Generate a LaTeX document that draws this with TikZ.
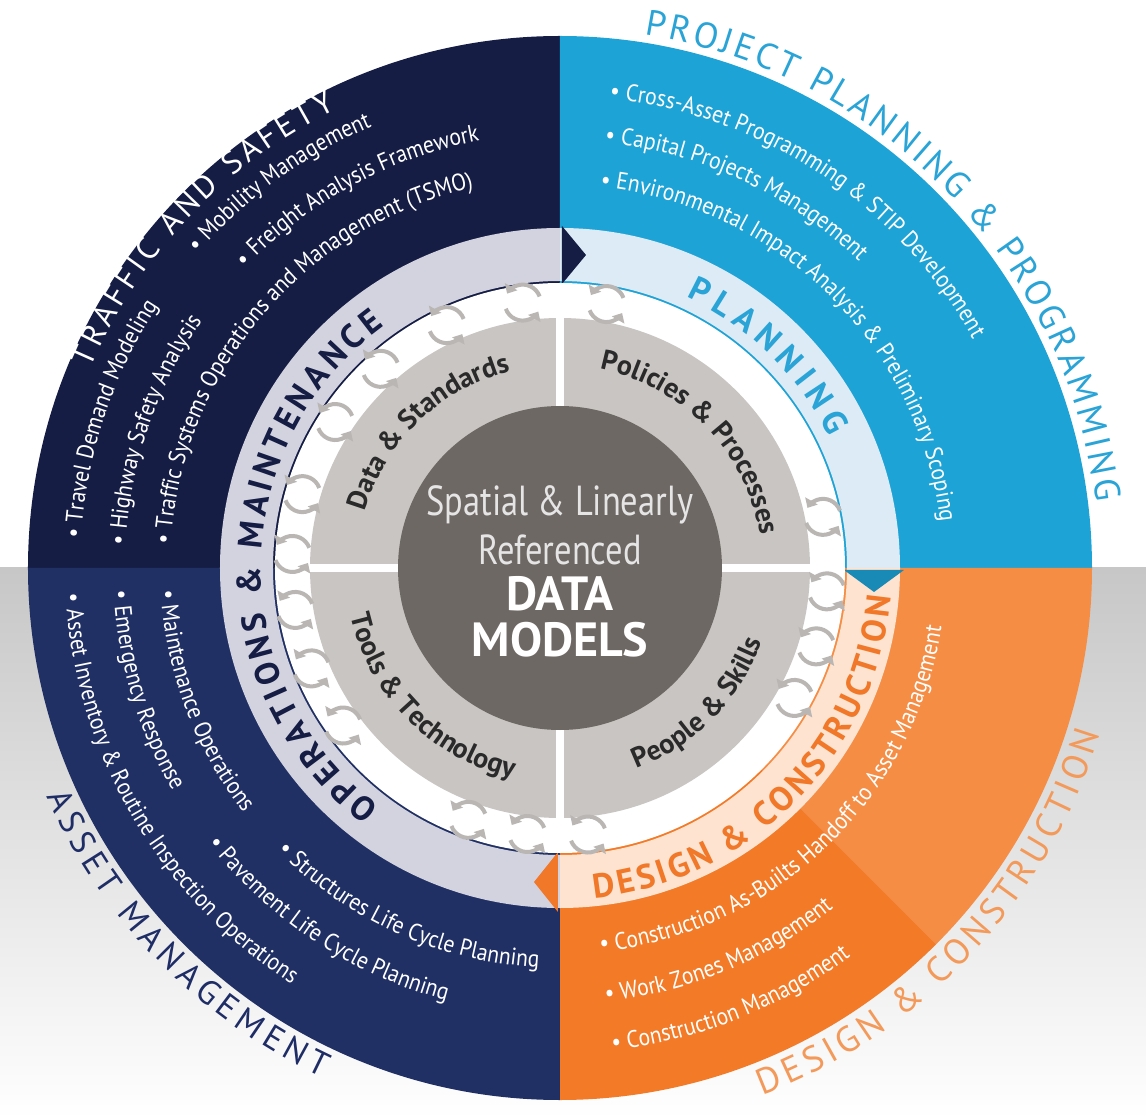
\documentclass[tikz,border=0pt]{standalone}
\usepackage{fontspec}
\setmainfont{PT Sans}
\newfontfamily\bul[FakeStretch=0.9]{PT Sans}
\newfontfamily\cnd[FakeStretch=0.82]{PT Sans}
\usetikzlibrary{decorations.text,arrows.meta}
\definecolor{tlc}{HTML}{151D45}
\definecolor{trc}{HTML}{1EA3D6}
\definecolor{brc}{HTML}{F37A26}
\definecolor{brc2}{HTML}{F68D45}
\definecolor{blc}{HTML}{203064}
\definecolor{ringblue}{HTML}{DCEBF5}
\definecolor{ringor}{HTML}{FDE3D0}
\definecolor{ringlav}{HTML}{D3D3E0}
\definecolor{grayq}{HTML}{C8C5C2}
\definecolor{centerc}{HTML}{6E6864}
\definecolor{iconc}{HTML}{B9B6B3}
\definecolor{labblue}{HTML}{2AA4D6}
\definecolor{laborange}{HTML}{F07828}
\definecolor{outorange}{HTML}{F39A5A}
\definecolor{navytxt}{HTML}{1F2D66}
\definecolor{darktxt}{HTML}{2A2A2A}
\newcommand\arctext[7]{%
  \path[decorate,decoration={text along path,text={|#4|#6},text color=#5,text align=#7}]
    (#2:#1) arc[start angle=#2,end angle=#3,radius=#1];}
\newcommand\cyc[1]{%
  \draw[cycst] (#1:268) ++(20:18) arc[start angle=20,end angle=150,radius=18];
  \draw[cycst] (#1:268) ++(200:18) arc[start angle=200,end angle=330,radius=18];}
\tikzset{
  cycst/.style={draw=iconc,line width=2pt,-{Triangle[length=4pt,width=7pt]}},
  ctxt/.style={text=#1,inner sep=0pt,anchor=center},
}
\def\bf#1{\bul\fontsize{#1}{14}\selectfont}
\begin{document}
\begin{tikzpicture}[x=0.5pt,y=0.5pt]
\useasboundingbox (-560,-551) rectangle (586,568);
% background
\shade[top color=black!22,bottom color=white] (-560,-551) rectangle (586,0);
% outer quadrants
\fill[tlc] (0,0) -- (90:532) arc[start angle=90,end angle=180,radius=532] -- cycle;
\fill[trc] (0,0) -- (0:532) arc[start angle=0,end angle=90,radius=532] -- cycle;
\fill[brc2] (0,0) -- (-45:532) arc[start angle=-45,end angle=0,radius=532] -- cycle;
\fill[brc] (0,0) -- (-90:532) arc[start angle=-90,end angle=-45,radius=532] -- cycle;
\fill[blc] (0,0) -- (180:532) arc[start angle=180,end angle=270,radius=532] -- cycle;
% ring
\fill[ringblue] (90:340) arc[start angle=90,end angle=0,radius=340] -- (0:287) arc[start angle=0,end angle=90,radius=287] -- cycle;
\fill[ringor] (0:340) arc[start angle=0,end angle=-90,radius=340] -- (-90:287) arc[start angle=-90,end angle=0,radius=287] -- cycle;
\fill[ringlav] (-90:340) arc[start angle=270,end angle=90,radius=340] -- (90:287) arc[start angle=90,end angle=270,radius=287] -- cycle;
% arrowheads
\fill[tlc] (2,342) -- (26,313) -- (2,284) -- cycle;
\fill[trc!85!black] (284,-2) -- (344,-2) -- (314,-24) -- cycle;
\fill[laborange] (-2,-284) -- (-2,-344) -- (-26,-314) -- cycle;
% white ring
\fill[white] (0,0) circle[radius=285];
% gray quadrants
\fill[grayq] (0,0) circle[radius=250];
\draw[white,line width=4pt] (-252,0) -- (252,0) (0,-252) -- (0,252);
\fill[centerc] (0,0) circle[radius=162];
% icons
\foreach \a in {80,98,115,132,147,164,177,189,202,216,250,263,276,11,-5,-17,-29} {\cyc{\a}}
% outer labels
\arctext{510}{157}{116}{\fontsize{16}{20}\selectfont}{white}{TRAFFIC AND SAFETY}{fit to path}
\arctext{540}{81}{7}{\fontsize{18}{20}\selectfont}{labblue}{PROJECT PLANNING {\&} PROGRAMMING}{fit to path}
\arctext{565}{-69}{-17}{\fontsize{18}{20}\selectfont}{outorange}{DESIGN {\&} CONSTRUCTION}{fit to path}
\arctext{562}{204}{245}{\fontsize{17}{20}\selectfont}{navytxt}{ASSET MANAGEMENT}{fit to path}
% top-left bullets
\arctext{480}{176.5}{140}{\bf{12}}{white}{• Travel Demand Modeling}{left}
\arctext{480}{139}{95}{\bf{12}}{white}{• Mobility Management}{left}
\arctext{435}{177}{138}{\bf{12}}{white}{• Highway Safety Analysis}{left}
\arctext{435}{136.4}{90}{\bf{12}}{white}{• Freight Analysis Framework}{left}
\arctext{390}{176.6}{85}{\bf{12}}{white}{• Traffic Systems Operations and Management (TSMO)}{left}
% top-right bullets
\arctext{472}{84}{15}{\bf{12}}{white}{• Cross-Asset Programming {\&} STIP Development}{left}
\arctext{428}{84}{30}{\bf{12}}{white}{• Capital Projects Management}{left}
\arctext{383}{84}{-5}{\bf{12}}{white}{• Environmental Impact Analysis {\&} Preliminary Scoping}{left}
% bottom-right bullets
\arctext{386}{-84}{2}{\bf{12}}{white}{• Construction As-Builts Handoff to Asset Management}{left}
\arctext{436}{-84}{-40}{\bf{12}}{white}{• Work Zones Management}{left}
\arctext{485}{-83.8}{-40}{\bf{12}}{white}{• Construction Management}{left}
% bottom-left bullets
\arctext{400}{183.2}{224}{\bf{12}}{white}{• Maintenance Operations}{left}
\arctext{400}{225}{275}{\bf{12}}{white}{• Structures Life Cycle Planning}{left}
\arctext{447}{182.9}{217}{\bf{12}}{white}{• Emergency Response}{left}
\arctext{447}{218}{268}{\bf{12}}{white}{• Pavement Life Cycle Planning}{left}
\arctext{495}{183}{255}{\bf{12}}{white}{• Asset Inventory {\&} Routine Inspection Operations}{left}
% ring labels
\arctext{299}{65}{26}{\fontsize{17}{20}\selectfont\bfseries}{labblue}{PLANNING}{fit to path}
\arctext{299}{233}{126}{\fontsize{17}{20}\selectfont\bfseries}{tlc}{OPERATIONS {\&} MAINTENANCE}{fit to path}
\arctext{332}{-84}{-5}{\fontsize{17}{20}\selectfont\bfseries}{laborange}{DESIGN {\&} CONSTRUCTION}{fit to path}
% gray labels
\arctext{203}{168}{100}{\fontsize{14}{16}\selectfont\bfseries}{darktxt}{Data {\&} Standards}{center}
\arctext{203}{83}{5}{\fontsize{14}{16}\selectfont\bfseries}{darktxt}{Policies {\&} Processes}{center}
\arctext{215}{187}{263}{\fontsize{14}{16}\selectfont\bfseries}{darktxt}{Tools {\&} Technology}{center}
\arctext{215}{-74}{-15}{\fontsize{14}{16}\selectfont\bfseries}{darktxt}{People {\&} Skills}{center}
% center text
\node[ctxt=black!10,font=\cnd\fontsize{21}{24}\selectfont] (l1) at (0,63) {Spatial \& Linearly};
\node[ctxt=black!10,font=\cnd\fontsize{21}{24}\selectfont] (l2) at (0,18) {Referenced};
\node[ctxt=white,font=\fontsize{24}{26}\selectfont\bfseries] (l3) at (0,-26) {DATA};
\node[ctxt=white,font=\fontsize{24}{26}\selectfont\bfseries] (l4) at (0,-72) {MODELS};
\end{tikzpicture}
\end{document}
